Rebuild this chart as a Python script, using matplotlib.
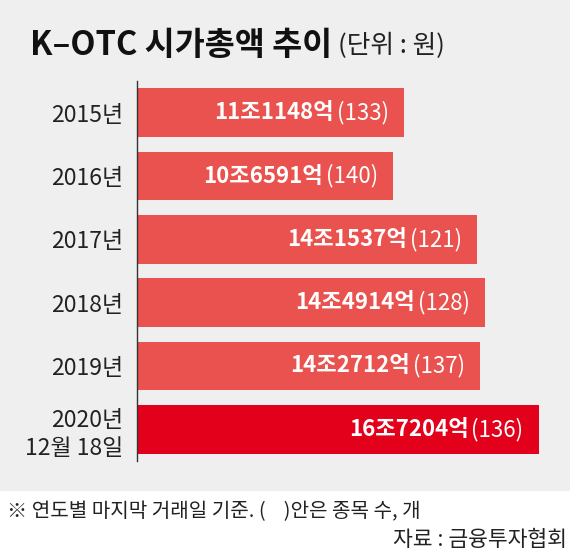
import matplotlib.pyplot as plt
from matplotlib.patches import Rectangle

plt.rcParams['font.family'] = ['Noto Sans CJK KR', 'DejaVu Sans']

# data (unit: 조 원)
years = ['2015년', '2016년', '2017년', '2018년', '2019년', '2020년\n12월 18일']
values = [11.1148, 10.6591, 14.1537, 14.4914, 14.2712, 16.7204]
amount_labels = ['11조1148억', '10조6591억', '14조1537억', '14조4914억', '14조2712억', '16조7204억']
counts = [133, 140, 121, 128, 137, 136]

W, H = 570, 552
fig = plt.figure(figsize=(W / 100, H / 100), dpi=100)
fig.patch.set_facecolor('white')
# grey panel behind the chart
fig.add_artist(Rectangle((0, 62 / H), 1, 1 - 62 / H, transform=fig.transFigure,
                         color='#efefef', zorder=0))

ax = fig.add_axes([137 / W, 91 / H, 433 / W, 380 / H])
ax.set_facecolor('none')

colors = ['#e9524e'] * (len(values) - 1) + ['#e3001b']
ax.barh(range(len(values)), values, height=0.77, color=colors, zorder=2)
ax.set_ylim(len(values) - 0.5, -0.5)
ax.set_xlim(0, 18.02)

for s in ['top', 'right', 'bottom']:
    ax.spines[s].set_visible(False)
ax.spines['left'].set_color('#333333')
ax.spines['left'].set_linewidth(1.0)
ax.set_xticks([])
ax.set_yticks(range(len(years)))
ax.set_yticklabels(years, fontsize=16.5, color='#222222', linespacing=1.3)
ax.tick_params(axis='y', length=0, pad=10)

# bar labels: bold amount + regular count
for i, v in enumerate(values):
    t2 = ax.annotate('(%d)' % counts[i], xy=(v, i), xytext=(-11, 0),
                     textcoords='offset points', ha='right', va='center',
                     color='white', fontsize=16, zorder=3)
    ax.annotate(amount_labels[i], xy=(0, 0.5), xycoords=t2, xytext=(-2, 0),
                textcoords='offset points', ha='right', va='center',
                color='white', fontsize=16, fontweight='bold', zorder=3)

title = fig.text(30 / W, 1 - 45 / H, 'K–OTC 시가총액 추이', fontsize=23.5,
                 fontweight='bold', color='#111111', va='center')
fig.text(338 / W, 1 - 46 / H, '(단위 : 원)', fontsize=18.5, color='#222222', va='center')

fig.text(7 / W, 1 - 512 / H, '※ 연도별 마지막 거래일 기준. (    )안은 종목 수, 개',
         fontsize=14.5, color='#222222', va='center')
fig.text(567 / W, 1 - 540 / H, '자료 : 금융투자협회', fontsize=15.5,
         color='#222222', va='center', ha='right')

fig.savefig('out.png', dpi=100, facecolor=fig.get_facecolor())
